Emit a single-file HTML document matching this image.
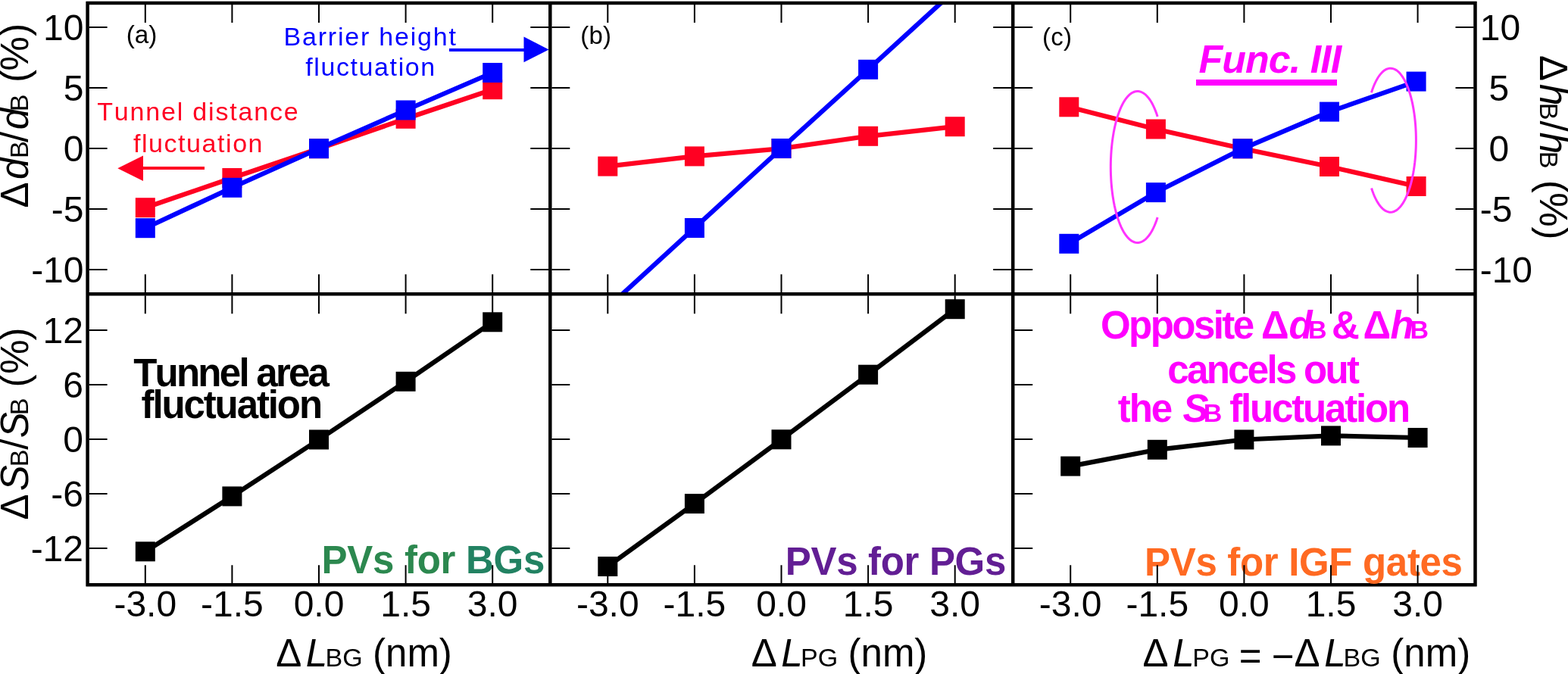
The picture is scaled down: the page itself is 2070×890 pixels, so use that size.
<!DOCTYPE html>
<html><head><meta charset="utf-8"><title>Figure</title>
<style>html,body{margin:0;padding:0;background:#fff;}body{width:2070px;height:890px;overflow:hidden;}svg{display:block;}text{font-kerning:none;font-variant-ligatures:none;}</style>
</head><body><svg width="2070" height="890" viewBox="0 0 2070 890" font-family="'Liberation Sans', Arial, Helvetica, sans-serif"><defs><clipPath id="cb"><rect x="728" y="6" width="607" height="380"/></clipPath><filter id="bl" x="-0.2" y="-0.1" width="1.4" height="1.2"><feGaussianBlur stdDeviation="0.7"/></filter><filter id="bl2" x="-0.05" y="-0.05" width="1.1" height="1.1"><feGaussianBlur stdDeviation="0.45"/></filter><linearGradient id="gg" gradientUnits="userSpaceOnUse" x1="427" y1="0" x2="718" y2="0"><stop offset="0" stop-color="#2c884f"/><stop offset="0.63" stop-color="#2c884f"/><stop offset="0.63" stop-color="#228262"/><stop offset="1" stop-color="#228262"/></linearGradient></defs><path d="M191.8,274.2 L306.4,235.0 L421.0,196.2 L535.6,156.8 L650.2,118.2" fill="none" stroke="#ff0022" stroke-width="6.2" stroke-linejoin="round"/><rect x="178.8" y="261.2" width="26" height="26" fill="#ff0022"/><rect x="293.4" y="222.0" width="26" height="26" fill="#ff0022"/><rect x="408.0" y="183.2" width="26" height="26" fill="#ff0022"/><rect x="522.6" y="143.8" width="26" height="26" fill="#ff0022"/><rect x="637.2" y="105.2" width="26" height="26" fill="#ff0022"/><path d="M191.8,301.2 L306.4,247.8 L421.0,196.2 L535.6,145.5 L650.2,96.0" fill="none" stroke="#0000ff" stroke-width="6.2" stroke-linejoin="round"/><rect x="178.8" y="288.2" width="26" height="26" fill="#0000ff"/><rect x="293.4" y="234.8" width="26" height="26" fill="#0000ff"/><rect x="408.0" y="183.2" width="26" height="26" fill="#0000ff"/><rect x="522.6" y="132.5" width="26" height="26" fill="#0000ff"/><rect x="637.2" y="83.0" width="26" height="26" fill="#0000ff"/><path d="M802.3,219.6 L916.9,206.4 L1031.5,196.1 L1146.1,179.8 L1260.7,167.2" fill="none" stroke="#ff0022" stroke-width="6.2" stroke-linejoin="round"/><rect x="789.3" y="206.6" width="26" height="26" fill="#ff0022"/><rect x="903.9" y="193.4" width="26" height="26" fill="#ff0022"/><rect x="1018.5" y="183.1" width="26" height="26" fill="#ff0022"/><rect x="1133.1" y="166.8" width="26" height="26" fill="#ff0022"/><rect x="1247.7" y="154.2" width="26" height="26" fill="#ff0022"/><path d="M802.3,406.0 L916.9,301.0 L1031.5,196.0 L1146.1,91.8 L1260.7,-13.0" fill="none" stroke="#0000ff" stroke-width="6.2" stroke-linejoin="round" clip-path="url(#cb)"/><rect x="903.9" y="288.0" width="26" height="26" fill="#0000ff"/><rect x="1018.5" y="183.0" width="26" height="26" fill="#0000ff"/><rect x="1133.1" y="78.8" width="26" height="26" fill="#0000ff"/><g filter="url(#bl2)"><path d="M1411.3,141.3 L1525.9,170.5 L1640.5,196.3 L1755.0,220.0 L1869.6,246.0" fill="none" stroke="#ff0022" stroke-width="6.2" stroke-linejoin="round"/><rect x="1398.3" y="128.3" width="26" height="26" fill="#ff0022"/><rect x="1512.9" y="157.5" width="26" height="26" fill="#ff0022"/><rect x="1627.5" y="183.3" width="26" height="26" fill="#ff0022"/><rect x="1742.0" y="207.0" width="26" height="26" fill="#ff0022"/><rect x="1856.6" y="233.0" width="26" height="26" fill="#ff0022"/><path d="M1411.3,321.8 L1525.9,254.1 L1640.5,196.3 L1755.0,147.6 L1869.6,107.6" fill="none" stroke="#0000ff" stroke-width="6.2" stroke-linejoin="round"/><rect x="1398.3" y="308.8" width="26" height="26" fill="#0000ff"/><rect x="1512.9" y="241.1" width="26" height="26" fill="#0000ff"/><rect x="1627.5" y="183.3" width="26" height="26" fill="#0000ff"/><rect x="1742.0" y="134.6" width="26" height="26" fill="#0000ff"/><rect x="1856.6" y="94.6" width="26" height="26" fill="#0000ff"/></g><path d="M191.8,728.3 L306.4,655.4 L421.0,580.5 L535.6,503.8 L650.2,425.3" fill="none" stroke="#000" stroke-width="6.2" stroke-linejoin="round"/><rect x="178.8" y="715.3" width="26" height="26" fill="#000"/><rect x="293.4" y="642.4" width="26" height="26" fill="#000"/><rect x="408.0" y="567.5" width="26" height="26" fill="#000"/><rect x="522.6" y="490.8" width="26" height="26" fill="#000"/><rect x="637.2" y="412.3" width="26" height="26" fill="#000"/><path d="M802.3,748.0 L916.9,665.1 L1031.5,580.3 L1146.1,494.7 L1260.7,408.2" fill="none" stroke="#000" stroke-width="6.2" stroke-linejoin="round"/><rect x="789.3" y="735.0" width="26" height="26" fill="#000"/><rect x="903.9" y="652.1" width="26" height="26" fill="#000"/><rect x="1018.5" y="567.3" width="26" height="26" fill="#000"/><rect x="1133.1" y="481.7" width="26" height="26" fill="#000"/><rect x="1247.7" y="395.2" width="26" height="26" fill="#000"/><path d="M1413.2,615.6 L1527.8,593.8 L1642.4,580.5 L1757.0,575.4 L1871.6,578.0" fill="none" stroke="#000" stroke-width="6.2" stroke-linejoin="round"/><rect x="1400.2" y="602.6" width="26" height="26" fill="#000"/><rect x="1514.8" y="580.8" width="26" height="26" fill="#000"/><rect x="1629.4" y="567.5" width="26" height="26" fill="#000"/><rect x="1744.0" y="562.4" width="26" height="26" fill="#000"/><rect x="1858.6" y="565.0" width="26" height="26" fill="#000"/><g fill="none" stroke="#ff33ff" stroke-width="3" filter="url(#bl)"><path d="M1528.13,287.02 L1526.83,290.93 L1525.46,294.64 L1524.02,298.13 L1522.51,301.39 L1520.95,304.43 L1519.33,307.22 L1517.65,309.77 L1515.94,312.06 L1514.18,314.08 L1512.38,315.84 L1510.56,317.32 L1508.71,318.52 L1506.84,319.44 L1504.95,320.08 L1503.06,320.43 L1501.16,320.49 L1499.26,320.26 L1497.37,319.75 L1495.50,318.95 L1493.64,317.87 L1491.80,316.51 L1489.99,314.87 L1488.22,312.96 L1486.48,310.79 L1484.79,308.35 L1483.15,305.67 L1481.56,302.73 L1480.03,299.57 L1478.56,296.17 L1477.15,292.56 L1475.82,288.73 L1474.56,284.72 L1473.38,280.51 L1472.29,276.14 L1471.27,271.60 L1470.35,266.92 L1469.51,262.11 L1468.77,257.17 L1468.12,252.13 L1467.57,247.00 L1467.11,241.79 L1466.76,236.52 L1466.50,231.21 L1466.35,225.86 L1466.30,220.50 L1466.35,215.14 L1466.50,209.79 L1466.76,204.48 L1467.11,199.21 L1467.57,194.00 L1468.12,188.87 L1468.77,183.83 L1469.51,178.89 L1470.35,174.08 L1471.27,169.40 L1472.29,164.86 L1473.38,160.49 L1474.56,156.28 L1475.82,152.27 L1477.15,148.44 L1478.56,144.83 L1480.03,141.43 L1481.56,138.27 L1483.15,135.33 L1484.79,132.65 L1486.48,130.21 L1488.22,128.04 L1489.99,126.13 L1491.80,124.49 L1493.64,123.13 L1495.50,122.05 L1497.37,121.25 L1499.26,120.74 L1501.16,120.51 L1503.06,120.57 L1504.95,120.92 L1506.84,121.56 L1508.71,122.48 L1510.56,123.68 L1512.38,125.16 L1514.18,126.92 L1515.94,128.94 L1517.65,131.23 L1519.33,133.78 L1520.95,136.57 L1522.51,139.61 L1524.02,142.87 L1525.46,146.36 L1526.83,150.07 L1528.13,153.98"/><path d="M1810.46,122.25 L1811.69,118.53 L1813.00,114.99 L1814.37,111.66 L1815.80,108.54 L1817.28,105.64 L1818.82,102.97 L1820.41,100.54 L1822.04,98.35 L1823.72,96.41 L1825.42,94.73 L1827.16,93.30 L1828.92,92.14 L1830.70,91.25 L1832.49,90.63 L1834.30,90.28 L1836.11,90.21 L1837.91,90.41 L1839.71,90.88 L1841.50,91.62 L1843.27,92.63 L1845.02,93.91 L1846.75,95.45 L1848.44,97.25 L1850.09,99.30 L1851.71,101.60 L1853.28,104.14 L1854.79,106.92 L1856.25,109.92 L1857.66,113.13 L1859.00,116.56 L1860.27,120.18 L1861.47,123.99 L1862.60,127.97 L1863.65,132.12 L1864.62,136.42 L1865.50,140.86 L1866.31,145.43 L1867.02,150.12 L1867.64,154.90 L1868.17,159.78 L1868.61,164.72 L1868.95,169.73 L1869.20,174.78 L1869.35,179.86 L1869.40,184.95 L1869.36,190.05 L1869.22,195.13 L1868.98,200.18 L1868.65,205.19 L1868.22,210.14 L1867.70,215.02 L1867.08,219.82 L1866.38,224.51 L1865.59,229.10 L1864.71,233.55 L1863.75,237.87 L1862.70,242.03 L1861.58,246.03 L1860.39,249.86 L1859.12,253.50 L1857.79,256.94 L1856.39,260.18 L1854.94,263.20 L1853.43,266.00 L1851.86,268.56 L1850.25,270.88 L1848.60,272.96 L1846.91,274.79 L1845.19,276.35 L1843.45,277.66 L1841.68,278.69 L1839.89,279.46 L1838.09,279.96 L1836.28,280.19 L1834.47,280.14 L1832.67,279.82 L1830.87,279.22 L1829.09,278.36 L1827.33,277.22 L1825.59,275.83 L1823.88,274.17 L1822.21,272.25 L1820.57,270.09 L1818.98,267.68 L1817.43,265.03 L1815.94,262.15 L1814.50,259.05 L1813.13,255.74 L1811.82,252.23 L1810.58,248.52"/></g><path d="M115.6,2.0999999999999996 V774.3 M726.3,2.0999999999999996 V774.3 M1337.2,2.0999999999999996 V774.3 M1947.5,2.0999999999999996 V774.3 M113.6,4.1 H1949.5 M113.6,388.3 H1949.5 M113.6,772.3 H1949.5" stroke="#000" stroke-width="4.5" fill="none"/><text x="110.5" y="53" font-size="48" text-anchor="end" >10</text><text x="110.5" y="133" font-size="48" text-anchor="end" >5</text><text x="110.5" y="213" font-size="48" text-anchor="end" >0</text><text x="110.5" y="293" font-size="48" text-anchor="end" >-5</text><text x="110.5" y="373" font-size="48" text-anchor="end" >-10</text><text x="110" y="453" font-size="48" text-anchor="end" >12</text><text x="110" y="525" font-size="48" text-anchor="end" >6</text><text x="110" y="597" font-size="48" text-anchor="end" >0</text><text x="110" y="669" font-size="48" text-anchor="end" >-6</text><text x="110" y="741" font-size="48" text-anchor="end" >-12</text><text x="1953.7" y="53" font-size="48" >10</text><text x="1965.5" y="133" font-size="48" >5</text><text x="1965.5" y="213" font-size="48" >0</text><text x="1953.7" y="293" font-size="48" >-5</text><text x="1953.7" y="373" font-size="48" >-10</text><text x="191.8" y="814" font-size="48" text-anchor="middle" >-3.0</text><text x="306.4" y="814" font-size="48" text-anchor="middle" >-1.5</text><text x="421.0" y="814" font-size="48" text-anchor="middle" >0.0</text><text x="535.6" y="814" font-size="48" text-anchor="middle" >1.5</text><text x="650.2" y="814" font-size="48" text-anchor="middle" >3.0</text><text x="802.3" y="814" font-size="48" text-anchor="middle" >-3.0</text><text x="916.9" y="814" font-size="48" text-anchor="middle" >-1.5</text><text x="1031.5" y="814" font-size="48" text-anchor="middle" >0.0</text><text x="1146.1" y="814" font-size="48" text-anchor="middle" >1.5</text><text x="1260.7" y="814" font-size="48" text-anchor="middle" >3.0</text><text x="1413.2" y="814" font-size="48" text-anchor="middle" >-3.0</text><text x="1527.8" y="814" font-size="48" text-anchor="middle" >-1.5</text><text x="1642.4" y="814" font-size="48" text-anchor="middle" >0.0</text><text x="1757.0" y="814" font-size="48" text-anchor="middle" >1.5</text><text x="1871.6" y="814" font-size="48" text-anchor="middle" >3.0</text><text x="365.8" y="879.6"><tspan x="364.28" font-size="51">Δ</tspan><tspan x="403.73" font-size="51" font-style="italic">L</tspan><tspan x="429.61" font-size="34">BG</tspan><tspan x="477.87" font-size="51"> (nm)</tspan></text><text x="993.3" y="879.8"><tspan x="991.78" font-size="51">Δ</tspan><tspan x="1031.23" font-size="51" font-style="italic">L</tspan><tspan x="1057.11" font-size="34">PG</tspan><tspan x="1105.37" font-size="51"> (nm)</tspan></text><text x="1509.9" y="879.6"><tspan x="1508.38" font-size="51">Δ</tspan><tspan x="1548.33" font-size="51" font-style="italic">L</tspan><tspan x="1574.31" font-size="34">PG</tspan><tspan y="883.8" x="1621.64" font-size="51"> =</tspan><tspan y="883.8" x="1664.72" font-size="51"> −</tspan><tspan y="879.6" x="1708.38" font-size="51">Δ</tspan><tspan x="1748.13" font-size="51" font-style="italic">L</tspan><tspan x="1773.61" font-size="34">BG</tspan><tspan x="1822.17" font-size="51"> (nm)</tspan></text><text transform="translate(37.2,274.6) rotate(-90)" y="0"><tspan x="-0.02" font-size="51">Δ</tspan><tspan x="37.54" font-size="51" font-style="italic">d</tspan><tspan x="65.71" font-size="34">B</tspan><tspan x="86.62" font-size="51">/</tspan><tspan x="103.24" font-size="51" font-style="italic">d</tspan><tspan x="127.36" font-size="34">B</tspan><tspan x="151.37" font-size="51"> (</tspan><tspan x="181.08" font-size="51">%</tspan><tspan x="226.78" font-size="51">)</tspan></text><text transform="translate(37.2,686.6) rotate(-90)" y="0"><tspan x="0.03" font-size="51">Δ</tspan><tspan x="38.34" font-size="51" font-style="italic">S</tspan><tspan x="70.31" font-size="34">B</tspan><tspan x="92.77" font-size="51">/</tspan><tspan x="108.29" font-size="51" font-style="italic">S</tspan><tspan x="138.26" font-size="34">B</tspan><tspan x="160.97" font-size="51"> (</tspan><tspan x="192.88" font-size="51">%</tspan><tspan x="237.08" font-size="51">)</tspan></text><text transform="translate(2033,72.9) rotate(90)" y="0"><tspan x="-0.02" font-size="51">Δ</tspan><tspan x="38.17" font-size="51" font-style="italic">h</tspan><tspan x="62.96" font-size="34">B</tspan><tspan x="86.57" font-size="51">/</tspan><tspan x="101.77" font-size="51" font-style="italic">h</tspan><tspan x="126.96" font-size="34">B</tspan><tspan x="150.57" font-size="51"> (</tspan><tspan x="181.48" font-size="51">%</tspan><tspan x="226.58" font-size="51">)</tspan></text><text x="166.74" y="57.2" font-size="33.3" letter-spacing="-0.084">(a)</text><text x="766.25" y="58.4" font-size="33" letter-spacing="0.181">(b)</text><text x="1376.05" y="59.9" font-size="33" letter-spacing="0.257">(c)</text><text x="128.24" y="158.8" font-size="34" fill="#ff0022" letter-spacing="1.817">Tunnel distance</text><text x="176.02" y="201.2" font-size="34" fill="#ff0022" letter-spacing="1.550">fluctuation</text><text x="374.51" y="59.7" font-size="34" fill="#0000ff" letter-spacing="1.788">Barrier height</text><text x="403.32" y="99.9" font-size="34" fill="#0000ff" letter-spacing="1.590">fluctuation</text><path d="M189,222.1 L270,222.1" stroke="#ff0022" stroke-width="4"/><path d="M155.3,222.3 L189,205.5 L189,239 Z" fill="#ff0022"/><path d="M593,65.9 L692,65.9" stroke="#0000ff" stroke-width="4"/><path d="M724.6,65.6 L691.5,48.6 L691.5,82.2 Z" fill="#0000ff"/><text x="1582.39" y="96.1" font-size="52" font-weight="bold" font-style="italic" fill="#ff00ff" letter-spacing="-0.940">Func. III</text><rect x="1579" y="105" width="186" height="8" fill="#ff00ff"/><text x="176.13" y="510.2" font-size="51" font-weight="bold" letter-spacing="-2.740">Tunnel area</text><text x="186.53" y="552.4" font-size="51" font-weight="bold" letter-spacing="-2.109">fluctuation</text><text x="1455" y="447.3" font-weight="bold" fill="#ff00ff"><tspan x="1453.01" font-size="51" font-weight="bold" letter-spacing="-2.560">Opposite</tspan><tspan x="1650.91" font-size="51" font-weight="bold"> Δ</tspan><tspan x="1701.62" font-size="51" font-weight="bold" font-style="italic">d</tspan><tspan x="1727.11" font-size="34" font-weight="bold">B</tspan><tspan x="1743.79" font-size="51" font-weight="bold"> &amp;</tspan><tspan x="1785.31" font-size="51" font-weight="bold"> Δ</tspan><tspan x="1835.46" font-size="51" font-weight="bold" font-style="italic">h</tspan><tspan x="1861.51" font-size="34" font-weight="bold">B</tspan></text><text x="1541.31" y="506" font-size="51" font-weight="bold" fill="#ff00ff" letter-spacing="-2.688">cancels out</text><text x="1476" y="556.6" font-weight="bold" fill="#ff00ff"><tspan x="1475.68" font-size="51" font-weight="bold" letter-spacing="-2.000">the</tspan><tspan x="1547.32" font-size="51" font-weight="bold" font-style="italic"> S</tspan><tspan x="1588.66" font-size="34" font-weight="bold">B</tspan><tspan x="1611.24" font-size="51" font-weight="bold" letter-spacing="-2.179"> fluctuation</tspan></text><text x="424.39" y="756.6" font-size="51" font-weight="bold" fill="url(#gg)" letter-spacing="-0.258">PVs for BGs</text><text x="1036.79" y="758.7" font-size="51" font-weight="bold" fill="#621e94" letter-spacing="-0.327">PVs for PGs</text><text x="1510.99" y="760.4" font-size="51" font-weight="bold" fill="#ff6a22" letter-spacing="-0.319">PVs for IGF gates</text><path d="M191.8,6.1 v24 M191.8,386.3 v-24 M191.8,390.3 v24 M191.8,770.3 v-24 M306.4,6.1 v24 M306.4,386.3 v-24 M306.4,390.3 v24 M306.4,770.3 v-24 M421.0,6.1 v24 M421.0,386.3 v-24 M421.0,390.3 v24 M421.0,770.3 v-24 M535.6,6.1 v24 M535.6,386.3 v-24 M535.6,390.3 v24 M535.6,770.3 v-24 M650.2,6.1 v24 M650.2,386.3 v-24 M650.2,390.3 v24 M650.2,770.3 v-24 M802.3,6.1 v24 M802.3,386.3 v-24 M802.3,390.3 v24 M802.3,770.3 v-24 M916.9,6.1 v24 M916.9,386.3 v-24 M916.9,390.3 v24 M916.9,770.3 v-24 M1031.5,6.1 v24 M1031.5,386.3 v-24 M1031.5,390.3 v24 M1031.5,770.3 v-24 M1146.1,6.1 v24 M1146.1,386.3 v-24 M1146.1,390.3 v24 M1146.1,770.3 v-24 M1260.7,6.1 v24 M1260.7,386.3 v-24 M1260.7,390.3 v24 M1260.7,770.3 v-24 M1413.2,6.1 v24 M1413.2,386.3 v-24 M1413.2,390.3 v24 M1413.2,770.3 v-24 M1527.8,6.1 v24 M1527.8,386.3 v-24 M1527.8,390.3 v24 M1527.8,770.3 v-24 M1642.4,6.1 v24 M1642.4,386.3 v-24 M1642.4,390.3 v24 M1642.4,770.3 v-24 M1757.0,6.1 v24 M1757.0,386.3 v-24 M1757.0,390.3 v24 M1757.0,770.3 v-24 M1871.6,6.1 v24 M1871.6,386.3 v-24 M1871.6,390.3 v24 M1871.6,770.3 v-24 M117.6,36 h24 M724.3,36 h-24 M728.3,36 h24 M1335.2,36 h-24 M1339.2,36 h24 M1945.5,36 h-24 M117.6,116 h24 M724.3,116 h-24 M728.3,116 h24 M1335.2,116 h-24 M1339.2,116 h24 M1945.5,116 h-24 M117.6,196 h24 M724.3,196 h-24 M728.3,196 h24 M1335.2,196 h-24 M1339.2,196 h24 M1945.5,196 h-24 M117.6,276 h24 M724.3,276 h-24 M728.3,276 h24 M1335.2,276 h-24 M1339.2,276 h24 M1945.5,276 h-24 M117.6,356 h24 M724.3,356 h-24 M728.3,356 h24 M1335.2,356 h-24 M1339.2,356 h24 M1945.5,356 h-24 M117.6,436 h24 M728.3,436 h24 M1339.2,436 h24 M117.6,508 h24 M728.3,508 h24 M1339.2,508 h24 M117.6,580 h24 M728.3,580 h24 M1339.2,580 h24 M117.6,652 h24 M728.3,652 h24 M1339.2,652 h24 M117.6,724 h24 M728.3,724 h24 M1339.2,724 h24" stroke="#000" stroke-width="2" fill="none"/></svg></body></html>
